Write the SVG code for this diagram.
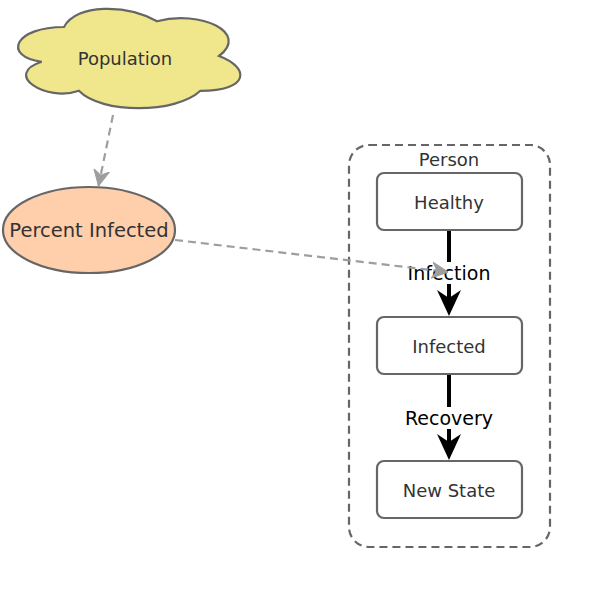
<svg xmlns="http://www.w3.org/2000/svg" width="593" height="593" viewBox="0 0 593 593">
  <style>
    .shape { stroke: #666666; stroke-width: 2.2; }
    .box { fill: #ffffff; stroke: #666666; stroke-width: 2.2; }
    .lbl { font-family: "DejaVu Sans", "Liberation Sans", sans-serif; font-size: 18px; fill: #333333; text-anchor: middle; dominant-baseline: central; }
    .elbl { font-family: "DejaVu Sans", "Liberation Sans", sans-serif; font-size: 19px; fill: #000000; text-anchor: middle; dominant-baseline: central; }
    .flow { stroke: #000000; stroke-width: 4; fill: none; }
    .dep { stroke: #9e9e9e; stroke-width: 2.2; stroke-dasharray: 8 5; fill: none; }
  </style>
  <defs>
    <marker id="blackArrow" viewBox="0 0 26 26" markerWidth="26" markerHeight="26" markerUnits="userSpaceOnUse" refX="20" refY="13" orient="auto">
      <path d="M0,1 L26,13 L0,25 L8,13 Z" fill="#000000"/>
    </marker>
    <marker id="grayArrow" viewBox="0 0 16 18" markerWidth="16" markerHeight="18" markerUnits="userSpaceOnUse" refX="16" refY="9" orient="auto">
      <path d="M0,1 L16,9 L0,17 L5,9 Z" fill="#9e9e9e" stroke="#9e9e9e" stroke-width="1"/>
    </marker>
  </defs>
  <rect width="593" height="593" fill="#ffffff"/>

  <g id="person">
    <rect x="349" y="145" width="201" height="402" rx="20" ry="20" fill="none" stroke="#666666" stroke-width="2.2" stroke-dasharray="8 5"/>
    <text class="lbl" x="449" y="159">Person</text>
  </g>

  <g id="population">
    <path class="shape" fill="#f0e68c" d="M64,27 C14.4,27 2,56 41.7,61.8 C2,74.6 46.6,102.4 78.9,90.8 C101.2,114 175.6,114 200.4,90.8 C250,90.8 250,67.6 219,56 C250,32.8 200.4,9.6 157,21.2 C126,3.8 76.4,3.8 64,27 Z"/>
    <text class="lbl" x="125" y="58">Population</text>
  </g>

  <g id="percent-infected">
    <ellipse class="shape" cx="89" cy="230" rx="86" ry="43" fill="#ffceab"/>
    <text class="lbl" x="89" y="230" style="font-size:19.5px">Percent Infected</text>
  </g>

  <g id="healthy">
    <rect class="box" x="377" y="173" width="145" height="57" rx="7" ry="7"/>
    <text class="lbl" x="449" y="202">Healthy</text>
  </g>

  <g id="infected">
    <rect class="box" x="377" y="317" width="145" height="57" rx="7" ry="7"/>
    <text class="lbl" x="449" y="346">Infected</text>
  </g>

  <g id="new-state">
    <rect class="box" x="377" y="461" width="145" height="57" rx="7" ry="7"/>
    <text class="lbl" x="449" y="490">New State</text>
  </g>

  <g id="connectors">
    <line class="flow" x1="449" y1="231" x2="449" y2="310" marker-end="url(#blackArrow)"/>
    <rect x="405" y="262" width="88" height="22" fill="#ffffff"/>
    <text class="elbl" x="449" y="273">Infection</text>

    <line class="flow" x1="449" y1="375" x2="449" y2="454" marker-end="url(#blackArrow)"/>
    <rect x="406" y="407" width="87" height="22" fill="#ffffff"/>
    <text class="elbl" x="449" y="418">Recovery</text>

    <line class="dep" x1="113" y1="115" x2="98.5" y2="186" marker-end="url(#grayArrow)"/>
    <line class="dep" x1="175" y1="240" x2="448" y2="272" marker-end="url(#grayArrow)"/>
  </g>
</svg>
